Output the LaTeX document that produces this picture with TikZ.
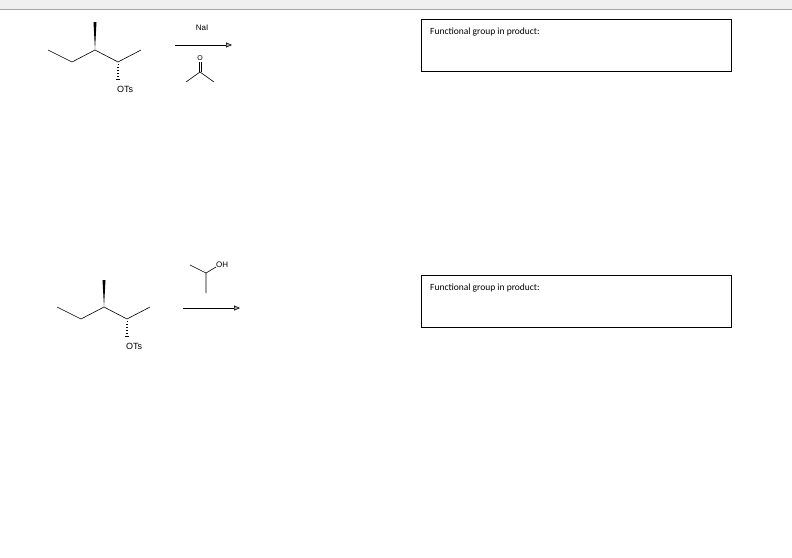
\documentclass[tikz,border=0pt]{standalone}
\usepackage{fontspec}
\usetikzlibrary{arrows.meta}
\setmainfont{Liberation Sans}
\newfontfamily\carfont{Carlito}
\begin{document}
\begin{tikzpicture}[x=1pt,y=-1pt,bond/.style={line width=0.6pt},
 lbl/.style={font=\fontsize{9}{10}\selectfont,inner sep=0pt},
 box/.style={draw,line width=0.8pt},
 arr/.style={line width=0.6pt,-{Triangle[length=6pt,width=5pt,fill=gray!60]}}]
\useasboundingbox (0,0) rectangle (792,557);
\fill[gray!12] (0,0) rectangle (792,9);
\draw[gray!70] (0,9) -- (792,9);
% molecule 1
\draw[bond] (48,50) -- (72,62) -- (95,50) -- (118,62) -- (141,50);
\fill (95,50) -- (93.5,22) -- (96.5,22) -- cycle;
\foreach \i in {0,...,5} \draw[line width=0.5pt] ({118-0.4-0.25*\i},{64+3*\i}) -- ({118+0.4+0.25*\i},{64+3*\i});
\node[lbl] (ots1) at (125,89) {OTs};
\coordinate (a1s) at (175,45); \coordinate (a1e) at (232,45);
\draw[arr] (a1s) -- (a1e);
\node[lbl,font=\fontsize{8}{9}\selectfont] (nai) at (202,28) {NaI};
\node[lbl,font=\fontsize{7}{8}\selectfont] (o1) at (200,58) {O};
\draw[bond] (198.8,62) -- (198.8,72); \draw[bond] (201.2,62) -- (201.2,72);
\draw[bond] (186,82) -- (200,72) -- (214,82);
% molecule 2
\draw[bond] (57,307) -- (81,319) -- (104,307) -- (127,319) -- (150,307);
\fill (104,307) -- (102.5,280) -- (105.5,280) -- cycle;
\foreach \i in {0,...,5} \draw[line width=0.5pt] ({127-0.4-0.25*\i},{321+3*\i}) -- ({127+0.4+0.25*\i},{321+3*\i});
\node[lbl] (ots2) at (134,346) {OTs};
\coordinate (a2s) at (183,308); \coordinate (a2e) at (240,308);
\draw[arr] (a2s) -- (a2e);
\node[lbl,font=\fontsize{8}{9}\selectfont,anchor=west] (oh) at (216,265) {OH};
\draw[bond] (190,265) -- (206,273) -- (206,293);
\draw[bond] (206,273) -- (216,267);
% boxes
\node[box,minimum width=310pt,minimum height=52pt,anchor=north west] (b1) at (421,19) {};
\node[anchor=north west,inner sep=0pt,font=\carfont\fontsize{9.5}{11}\selectfont] (t1) at (430,28) {Functional group in product:};
\node[box,minimum width=310pt,minimum height=52pt,anchor=north west] (b2) at (421,275) {};
\node[anchor=north west,inner sep=0pt,font=\carfont\fontsize{9.5}{11}\selectfont] (t2) at (430,284) {Functional group in product:};
\end{tikzpicture}
\end{document}
